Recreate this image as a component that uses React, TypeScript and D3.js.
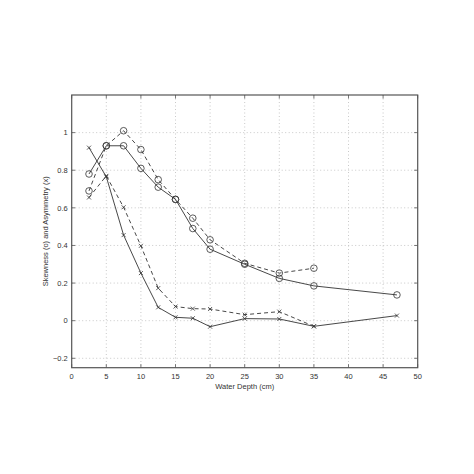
import * as d3 from 'd3'
import { useEffect, useRef } from 'react'

const depthA = [2.5, 5, 7.5, 10, 12.5, 15, 17.5, 20, 25, 30, 35, 47]
const depthB = [2.5, 5, 7.5, 10, 12.5, 15, 17.5, 20, 25, 30, 35]
const skewA = [0.78, 0.93, 0.93, 0.81, 0.71, 0.645, 0.49, 0.38, 0.30, 0.225, 0.185, 0.137]
const skewB = [0.69, 0.93, 1.01, 0.91, 0.75, 0.645, 0.545, 0.43, 0.305, 0.253, 0.279]
const asymA = [0.92, 0.765, 0.455, 0.253, 0.071, 0.018, 0.013, -0.032, 0.011, 0.009, -0.03, 0.027]
const asymB = [0.655, 0.77, 0.603, 0.398, 0.173, 0.075, 0.064, 0.062, 0.032, 0.048, -0.03]
const xTicks = [0, 5, 10, 15, 20, 25, 30, 35, 40, 45, 50]
const yTicks = [-0.2, 0, 0.2, 0.4, 0.6, 0.8, 1]

const App = () => {
  const ref = useRef<SVGSVGElement>(null)
  useEffect(() => {
    const svg = d3.select(ref.current)
    svg.selectAll('*').remove()
    const left = 71.7, right = 417.7, top = 95, bottom = 367.7
    const x = d3.scaleLinear().domain([0, 50]).range([left, right])
    const y = d3.scaleLinear().domain([-0.25, 1.2]).range([bottom, top])
    const frame = '#555'
    const ink = '#333'
    const font = 'Liberation Sans, Arial, sans-serif'

    // grid
    const g = svg.append('g').attr('stroke', '#bbb').attr('stroke-width', 0.8).attr('stroke-dasharray', '1,2.5')
    xTicks.slice(1, -1).forEach(t => g.append('line').attr('x1', x(t)).attr('x2', x(t)).attr('y1', top).attr('y2', bottom))
    yTicks.forEach(t => g.append('line').attr('x1', left).attr('x2', right).attr('y1', y(t)).attr('y2', y(t)))

    // inward ticks
    const tk = svg.append('g').attr('stroke', frame).attr('stroke-width', 0.8)
    xTicks.forEach(t => {
      tk.append('line').attr('x1', x(t)).attr('x2', x(t)).attr('y1', bottom).attr('y2', bottom - 3.5)
      tk.append('line').attr('x1', x(t)).attr('x2', x(t)).attr('y1', top).attr('y2', top + 3.5)
    })
    yTicks.forEach(t => {
      tk.append('line').attr('x1', left).attr('x2', left + 3.5).attr('y1', y(t)).attr('y2', y(t))
      tk.append('line').attr('x1', right).attr('x2', right - 3.5).attr('y1', y(t)).attr('y2', y(t))
    })

    svg.append('rect').attr('x', left).attr('y', top).attr('width', right - left).attr('height', bottom - top)
      .attr('fill', 'none').attr('stroke', frame).attr('stroke-width', 1.2)

    // tick labels
    svg.append('g').selectAll('text').data(xTicks).enter().append('text')
      .attr('x', d => x(d)).attr('y', bottom + 11).attr('text-anchor', 'middle')
      .attr('font-family', font).attr('font-size', 7.5).attr('fill', ink).text(d => d)
    svg.append('g').selectAll('text').data(yTicks).enter().append('text')
      .attr('x', left - 4).attr('y', d => y(d) + 2.7).attr('text-anchor', 'end')
      .attr('font-family', font).attr('font-size', 7.5).attr('fill', ink).text(d => d === 0 ? '0' : d3.format('')(d).replace('-', '\u2212'))

    svg.append('text').attr('x', (left + right) / 2).attr('y', bottom + 21).attr('text-anchor', 'middle')
      .attr('font-family', font).attr('font-size', 7.5).attr('fill', ink).text('Water Depth (cm)')
    svg.append('text').attr('transform', `translate(48,${(top + bottom) / 2}) rotate(-90)`).attr('text-anchor', 'middle')
      .attr('font-family', font).attr('font-size', 7.5).attr('fill', ink).text('Skewness (o) and Asymmetry (x)')

    const line = d3.line<[number, number]>().x(d => x(d[0])).y(d => y(d[1]))
    const series = [
      { xs: depthA, ys: skewA, dash: null, mark: 'o' },
      { xs: depthB, ys: skewB, dash: '4,3', mark: 'o' },
      { xs: depthA, ys: asymA, dash: null, mark: 'x' },
      { xs: depthB, ys: asymB, dash: '4,3', mark: 'x' },
    ]
    series.forEach(s => {
      const pts = s.xs.map((d, i) => [d, s.ys[i]] as [number, number])
      svg.append('path').attr('d', line(pts)).attr('fill', 'none').attr('stroke', ink).attr('stroke-width', 0.9)
        .attr('stroke-dasharray', s.dash)
      pts.forEach(p => {
        const cx = x(p[0]), cy = y(p[1])
        if (s.mark === 'o') {
          svg.append('circle').attr('cx', cx).attr('cy', cy).attr('r', 3.3).attr('fill', 'none')
            .attr('stroke', ink).attr('stroke-width', 0.8)
        } else {
          const r = 2
          svg.append('path').attr('d', `M${cx - r},${cy - r}L${cx + r},${cy + r}M${cx - r},${cy + r}L${cx + r},${cy - r}`)
            .attr('stroke', ink).attr('stroke-width', 0.8)
        }
      })
    })
  }, [])
  return (
    <svg ref={ref} width={474} height={474} style={{ position: 'absolute', left: 0, top: 0, background: '#fff' }} />
  )
}
export default App
